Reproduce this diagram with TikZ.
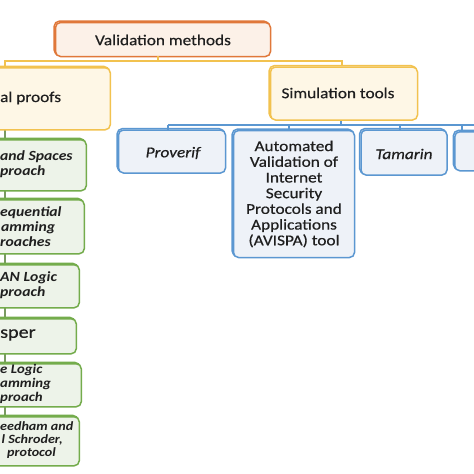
\documentclass[tikz,border=0pt]{standalone}
\usepackage{fontspec}
\setmainfont{Carlito}[FakeStretch=1.15,FakeBold=0.8]
\newfontfamily\plainsf{Carlito}[FakeStretch=1.15,FakeBold=0.5]
\newfontfamily\leftsf{Carlito}[FakeStretch=1.12]
\begin{document}
\begin{tikzpicture}[x=1pt,y=-1pt]
\definecolor{orC}{HTML}{E0783A}
\definecolor{orF}{HTML}{FCF1E8}
\definecolor{goC}{HTML}{F2C24F}
\definecolor{goF}{HTML}{FEF7E6}
\definecolor{blC}{HTML}{5B97D1}
\definecolor{blF}{HTML}{EEF2F8}
\definecolor{grC}{HTML}{74AC4C}
\definecolor{grF}{HTML}{EDF3E9}
\tikzset{
  boxbase/.style={rectangle, rounded corners=5pt, line width=1.5pt, inner sep=0pt},
  vmbox/.style={boxbase, draw=orC, fill=orF, preaction={draw=orC, line width=1.5pt, transform canvas={shift={(-1.3pt,1.3pt)}}}},
  gobox/.style={boxbase, draw=goC, fill=goF, preaction={draw=goC, line width=1.5pt, transform canvas={shift={(-1.3pt,1.3pt)}}}},
  blbox/.style={boxbase, draw=blC, fill=blF, preaction={draw=blC, line width=1.5pt, transform canvas={shift={(-1.3pt,1.3pt)}}}},
  grbox/.style={boxbase, draw=grC, fill=grF, preaction={draw=grC, line width=1.5pt, transform canvas={shift={(-1.3pt,1.3pt)}}}},
  lbl/.style={font=\plainsf\fontsize{15}{15.7}\selectfont, text=black!88, inner sep=0pt},
  ilbl/.style={font=\leftsf\fontsize{14}{15.2}\selectfont\bfseries\itshape, text=black!88, inner sep=0pt, align=left, anchor=west},
  golink/.style={draw=goC, line width=1.2pt},
  bllink/.style={draw=blC, line width=1.2pt},
  grlink/.style={draw=grC!60!gray, line width=1.2pt}
}
\useasboundingbox (0,0) rectangle (474,474);
\clip (0,0) rectangle (474,474);
\fill[white] (0,0) rectangle (474,474);
% connectors (behind boxes)
\coordinate (fptop) at (5,66);
\coordinate (fpbot) at (5,128);
\coordinate (colend) at (5,415);
\coordinate (blL) at (168,125);
\coordinate (blR) at (480,125);
\draw[golink] (fptop) -- (5,61) -- (342,61) -- (342,66);
\draw[grlink] (fpbot) -- (colend);
\draw[bllink] (blL) -- (blR);
\draw[bllink] (341,120) -- (341,125);
\draw[bllink] (168,125) -- (168,131);
\draw[bllink] (289,125) -- (289,131);
\draw[bllink] (400,125) -- (400,131);
\draw[bllink] (462,125) -- (462,131);
% top
\node[vmbox, minimum width=215pt, minimum height=34pt] (vm) at (163,39.5) {};
\node[lbl] (vmt) at (163,40) {Validation methods};
\draw[golink] (158,56) -- (158,61);
% level 2
\node[gobox, minimum width=180pt, minimum height=62pt, anchor=north east] (fp) at (111,67) {};
\node[lbl, anchor=west] (fpt) at (0,98) {al proofs};
\node[gobox, minimum width=147pt, minimum height=53pt] (sim) at (344,93.5) {};
\node[lbl] (simt) at (338,93) {Simulation tools};
% simulation tools row
\node[blbox, minimum width=107pt, minimum height=43pt] (pv) at (172,151.5) {};
\node[lbl, font=\plainsf\fontsize{15}{15.7}\selectfont\itshape] (pvt) at (173,153) {Proverif};
\node[blbox, minimum width=121pt, minimum height=127pt] (av) at (294,194) {};
\node[lbl, align=center] (avt) at (294,194) {Automated\\Validation of\\Internet\\Security\\Protocols and\\Applications\\(AVISPA) tool};
\node[blbox, minimum width=86pt, minimum height=45pt] (ta) at (404,152.5) {};
\node[lbl, font=\plainsf\fontsize{15}{15.7}\selectfont\itshape] (tat) at (404,154) {Tamarin};
\node[blbox, minimum width=60pt, minimum height=39pt, anchor=north west] (fo) at (454,131) {};
% formal proofs column
\node[grbox, minimum width=150pt, minimum height=51pt, anchor=north east] (g1) at (87,139) {};
\node[ilbl] (g1t) at (0,164.5) {and Spaces\\proach};
\node[grbox, minimum width=150pt, minimum height=54pt, anchor=north east] (g2) at (85,199) {};
\node[ilbl] (g2t) at (0,226.5) {equential\\\hspace*{1pt}amming\\roaches};
\node[grbox, minimum width=150pt, minimum height=43pt, anchor=north east] (g3) at (80,264) {};
\node[ilbl] (g3t) at (0,285) {AN Logic\\proach};
\node[grbox, minimum width=150pt, minimum height=35pt, anchor=north east] (g4) at (77,318) {};
\node[lbl, anchor=west, font=\plainsf\fontsize{17.5}{18}\selectfont] (g4t) at (0,335) {sper};
\node[grbox, minimum width=150pt, minimum height=43pt, anchor=north east] (g5) at (82,363) {};
\node[ilbl, font=\leftsf\fontsize{13.2}{14}\selectfont\bfseries\itshape] (g5t) at (0,384) {e Logic\\amming\\proach};
\node[grbox, minimum width=150pt, minimum height=49pt, anchor=north east] (g6) at (80,416) {};
\node[ilbl, font=\leftsf\fontsize{12.6}{13.2}\selectfont\bfseries\itshape] (g6t) at (0,440) {eedham and\\\hspace*{1.5pt}l Schroder,\\\hspace*{7pt}protocol};
\end{tikzpicture}
\end{document}
